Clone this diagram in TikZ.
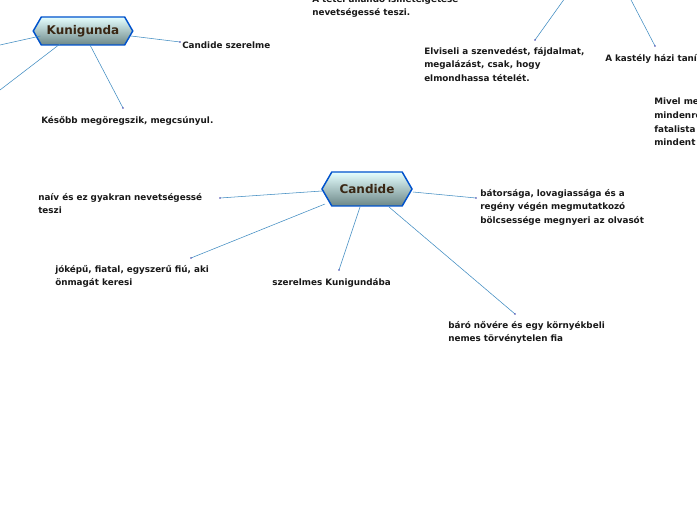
\documentclass[tikz,border=0pt]{standalone}
\usepackage{fontspec}
\setmainfont{DejaVu Sans}
\usetikzlibrary{shapes.symbols}
\begin{document}
\begin{tikzpicture}[x=0.75pt,y=-0.75pt,
  conn/.style={draw=blue!30!gray!70!cyan, line width=0.4pt},
  dot/.style={circle,fill=gray!60!blue,inner sep=0.5pt},
  txt/.style={anchor=north west,inner sep=0pt,align=left,font=\fontsize{6.6}{10.2}\selectfont\bfseries,text=black!90},
  topic/.style={signal, signal to=west and east, draw=blue!60!cyan!80!black, line width=1.1pt,
    top color=cyan!10!white, bottom color=gray!70!cyan!50!black!70, text=black!70!brown,
    font=\fontsize{9}{10}\selectfont\bfseries, inner xsep=4pt, signal pointer angle=120}]
\useasboundingbox (0,0) rectangle (697,520);
\clip (0,0) rectangle (697,520);
\fill[white] (0,0) rectangle (697,520);
\node[topic, minimum width=97pt*0.75, minimum height=28*0.75pt] (kun) at (83,31) {Kunigunda};
\node[topic, minimum width=90*0.75pt, minimum height=34*0.75pt] (cand) at (367,189) {Candide};

\node[txt] (t0) at (312,-5) {A tétel állandó ismételgetése\\nevetségessé teszi.};
\node[txt] (t1) at (182,42) {Candide szerelme};
\node[txt] (t2) at (41,116) {Később megöregszik, megcsúnyul.};
\node[txt] (t3) at (424,47) {Elviseli a szenvedést, fájdalmat,\\megalázást, csak, hogy\\elmondhassa tételét.};
\node[txt] (t4) at (605,54) {A kastély házi tanítója};
\node[txt] (t5) at (654,98) {Mivel mestere\\mindenről\\fatalista\\mindent};
\node[txt] (t6) at (38,193) {naív és ez gyakran nevetségessé\\teszi};
\node[txt] (t7) at (55,265) {jóképű, fiatal, egyszerű fiú, aki\\önmagát keresi};
\node[txt] (t8) at (272,278) {szerelmes Kunigundába};
\node[txt] (t9) at (480,189) {bátorsága, lovagiassága és a\\regény végén megmutatkozó\\bölcsessége megnyeri az olvasót};
\node[txt] (t10) at (448,321) {báró nővére és egy környékbeli\\nemes törvénytelen fia};

\coordinate (e1) at (0,45); \coordinate (e2) at (0,90);
\coordinate (e3) at (565,-2); \coordinate (e4) at (630,-2);
\coordinate (p3) at (535,40); \coordinate (p4) at (655,46);
\coordinate (p1) at (180,42); \coordinate (p2) at (123,108);
\coordinate (p6) at (220,198); \coordinate (p7) at (191,258);
\coordinate (p8) at (339,270); \coordinate (p9) at (476,198);
\coordinate (p10) at (515,314);

\draw[conn] (kun.west) ++(8,5) -- (e1);
\draw[conn] (60,44) -- (e2);
\draw[conn] (131,36) -- (p1);
\draw[conn] (90,45) -- (p2);
\draw[conn] (e3) -- (p3);
\draw[conn] (e4) -- (p4);
\draw[conn] (322,191) -- (p6);
\draw[conn] (325,204) -- (p7);
\draw[conn] (360,207) -- (p8);
\draw[conn] (413,192) -- (p9);
\draw[conn] (389,207) -- (p10);
\foreach \p in {p1,p2,p3,p4,p6,p7,p8,p9,p10} \node[dot] at (\p) {};
\end{tikzpicture}
\end{document}
